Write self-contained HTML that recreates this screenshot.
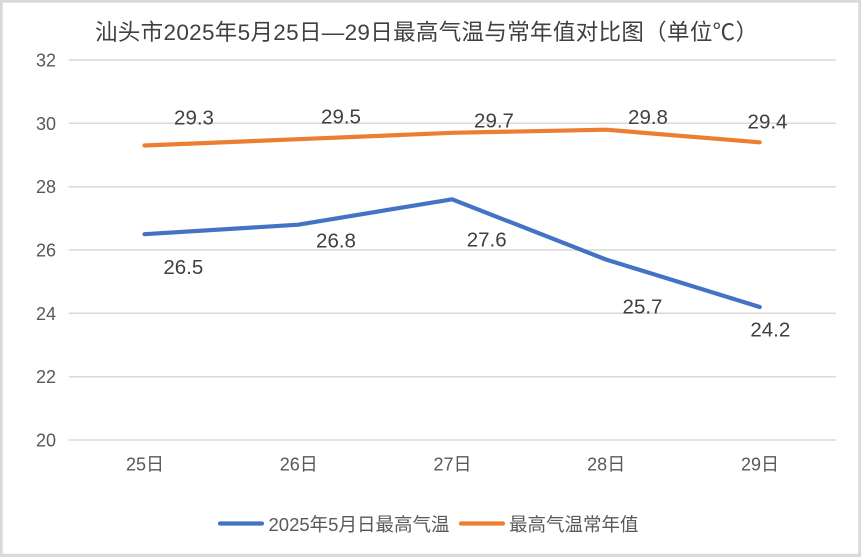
<!DOCTYPE html>
<html>
<head>
<meta charset="utf-8">
<style>
html,body{margin:0;padding:0;background:#fff;}
svg{display:block;}
text{font-family:"Liberation Sans","Noto Sans CJK SC",sans-serif;}
</style>
</head>
<body>
<svg width="861" height="557" viewBox="0 0 861 557" xmlns="http://www.w3.org/2000/svg">
  <rect x="0" y="0" width="861" height="557" fill="#d9d9d9"/>
  <rect x="2.7" y="2.7" width="855.6" height="551" fill="#ffffff"/>

  <!-- title -->
  <text x="95" y="40" font-size="22.5" fill="#404040" textLength="663" lengthAdjust="spacing">汕头市2025年5月25日—29日最高气温与常年值对比图（单位℃）</text>

  <!-- gridlines -->
  <g stroke="#d9d9d9" stroke-width="1.5">
    <line x1="68.7" y1="60" x2="835.7" y2="60"/>
    <line x1="68.7" y1="123.3" x2="835.7" y2="123.3"/>
    <line x1="68.7" y1="186.7" x2="835.7" y2="186.7"/>
    <line x1="68.7" y1="250" x2="835.7" y2="250"/>
    <line x1="68.7" y1="313.3" x2="835.7" y2="313.3"/>
    <line x1="68.7" y1="376.7" x2="835.7" y2="376.7"/>
    <line x1="68.7" y1="440" x2="835.7" y2="440"/>
  </g>

  <!-- y axis labels -->
  <g font-size="18" fill="#595959" text-anchor="end">
    <text x="56" y="66.5">32</text>
    <text x="56" y="129.8">30</text>
    <text x="56" y="193.2">28</text>
    <text x="56" y="256.5">26</text>
    <text x="56" y="319.8">24</text>
    <text x="56" y="383.2">22</text>
    <text x="56" y="446.5">20</text>
  </g>

  <!-- x axis labels -->
  <g font-size="18" fill="#595959" text-anchor="middle">
    <text x="145" y="470.5">25日</text>
    <text x="298.8" y="470.5">26日</text>
    <text x="452.5" y="470.5">27日</text>
    <text x="606.2" y="470.5">28日</text>
    <text x="760" y="470.5">29日</text>
  </g>

  <!-- series -->
  <polyline points="144.5,145.5 298.3,139.2 452.1,132.8 605.9,129.7 759.7,142.3" fill="none" stroke="#ED7D31" stroke-width="4.2" stroke-linecap="round" stroke-linejoin="round"/>
  <polyline points="144.5,234.2 298.3,224.7 452.1,199.3 605.9,259.5 759.7,307.0" fill="none" stroke="#4472C4" stroke-width="4.2" stroke-linecap="round" stroke-linejoin="round"/>

  <!-- data labels -->
  <g font-size="20.5" fill="#404040" text-anchor="middle">
    <text x="194" y="124.5">29.3</text>
    <text x="341" y="123.3">29.5</text>
    <text x="494" y="127.3">29.7</text>
    <text x="648" y="124">29.8</text>
    <text x="767.5" y="128.3">29.4</text>
    <text x="183.3" y="274">26.5</text>
    <text x="336" y="247.7">26.8</text>
    <text x="486.7" y="246.7">27.6</text>
    <text x="642.5" y="313.3">25.7</text>
    <text x="770.3" y="336.7">24.2</text>
  </g>

  <!-- legend -->
  <line x1="220" y1="523.5" x2="262" y2="523.5" stroke="#4472C4" stroke-width="4.2" stroke-linecap="round"/>
  <text x="268.5" y="531" font-size="18.5" fill="#595959">2025年5月日最高气温</text>
  <line x1="461" y1="523.5" x2="503" y2="523.5" stroke="#ED7D31" stroke-width="4.2" stroke-linecap="round"/>
  <text x="509" y="531" font-size="18.5" fill="#595959">最高气温常年值</text>
</svg>
</body>
</html>
